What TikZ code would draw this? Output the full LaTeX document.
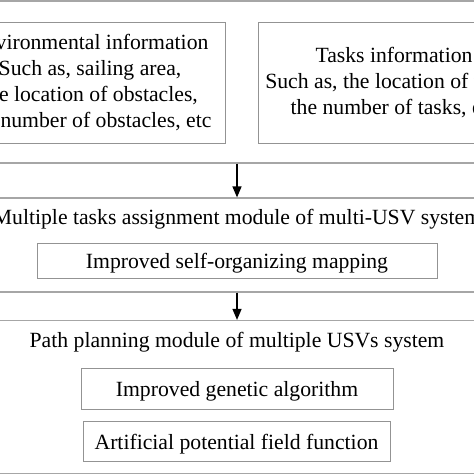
\documentclass[tikz,border=0pt]{standalone}
\usepackage{fontspec}
\setmainfont{Liberation Serif}
\usetikzlibrary{arrows.meta,positioning}
\tikzstyle{frame} = [rectangle,minimum width=640pt,inner sep=0pt,
                     draw=gray!70,line width=1.2pt]
\tikzstyle{box} = [rectangle,inner sep=0pt,text centered,align=center,
                   draw=gray!85,line width=0.8pt]
\tikzstyle{method} = [box,text height=17pt,text depth=2pt]
\tikzstyle{arrow} = [line width=1.3pt,-{Triangle[length=11pt,width=9pt]}]

\begin{document}
\begin{tikzpicture}[x=1pt,y=-1pt,every node/.style={font=\fontsize{21.7}{26}\selectfont}]
 \useasboundingbox (0,0) rectangle (474,474);
 \clip (0,0) rectangle (474,474);
 \node (IN) [frame,minimum height=162pt] at (237,82) {};
 \node (EI) [box,minimum width=271pt,minimum height=121pt] at (90,82.5)
            {Environmental information\\Such as, sailing area,\\the location of obstacles,\\the number of obstacles, etc};
 \node (TI) [box,minimum width=272pt,minimum height=121pt] at (394,82.5)
            {Tasks information\\Such as, the location of tasks,\\the number of tasks, etc};
 \node (TA) [frame,minimum height=94pt] at (237,245) {};
 \node (TAT) at (237,219.5) {Multiple tasks assignment module of multi-USV system};
 \node (SOM) [method,minimum width=400pt,minimum height=35pt] at (237,260.8)
            {Improved self-organizing mapping};
 \node (PP) [frame,minimum height=153pt] at (237,397) {};
 \node (PPT) at (237,341.7) {Path planning module of multiple USVs system};
 \node (GA) [method,minimum width=312pt,minimum height=41pt] at (237,388.8)
            {Improved genetic algorithm};
 \node (APF) [method,minimum width=307pt,minimum height=40pt] at (236.5,441.7)
            {Artificial potential field function};
 \draw [arrow] (IN) -- (TA);
 \draw [arrow] (TA) -- (PP);
\end{tikzpicture}
\end{document}
